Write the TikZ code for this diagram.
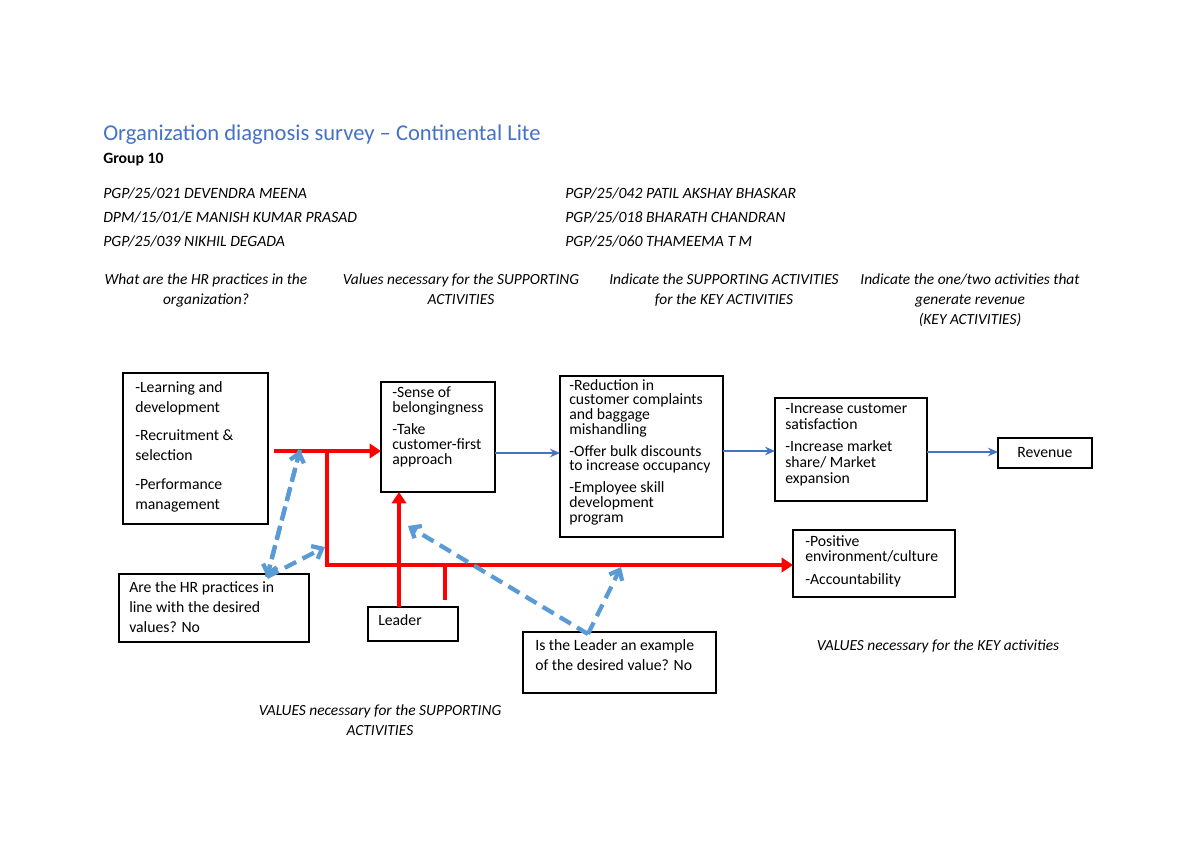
\documentclass[tikz,border=0pt]{standalone}
\usepackage{fontspec}
\setmainfont{Carlito}
\usetikzlibrary{arrows.meta}
\begin{document}
\begin{tikzpicture}[x=0.7pt,y=-0.7pt,
  box/.style={draw,line width=0.8pt,inner sep=0pt},
  txt/.style={align=left,anchor=north west,inner sep=0pt},
  nm/.style={anchor=west,inner sep=0pt,font=\fontsize{11}{13}\selectfont\itshape},
  hdr/.style={font=\fontsize{10.8}{14}\selectfont\itshape,align=center,inner sep=0pt},
  redar/.style={draw=red,line width=3.3pt,-{Triangle[length=8pt,width=10pt]}},
  redln/.style={draw=red,line width=3.3pt},
  bluear/.style={draw={rgb,255:red,68;green,114;blue,196},line width=1pt,-{Stealth[length=7pt,width=6pt]}},
  dashar/.style={draw={rgb,255:red,91;green,155;blue,213},line width=3pt,dash pattern=on 9pt off 5pt,-{Straight Barb[length=6pt,width=10pt]}}]
\useasboundingbox (0,0) rectangle (1200,849);
\node[anchor=west,inner sep=0pt,font=\fontsize{15.8}{18}\selectfont,text={rgb,255:red,68;green,114;blue,196}] (title) at (103,135) {Organization diagnosis survey – Continental Lite};
\node[anchor=west,inner sep=0pt,font=\fontsize{11}{13}\selectfont\bfseries] (grp) at (103,160) {Group 10};
\node[nm] (n1) at (103,193) {PGP/25/021 DEVENDRA MEENA};
\node[nm] (n2) at (103,217) {DPM/15/01/E MANISH KUMAR PRASAD};
\node[nm] (n3) at (103,241) {PGP/25/039 NIKHIL DEGADA};
\node[nm] (n4) at (565,193) {PGP/25/042 PATIL AKSHAY BHASKAR};
\node[nm] (n5) at (565,217) {PGP/25/018 BHARATH CHANDRAN};
\node[nm] (n6) at (565,241) {PGP/25/060 THAMEEMA T M};
\node[hdr,anchor=north] (h1) at (206,273) {What are the HR practices in the\\organization?};
\node[hdr,anchor=north] (h2) at (461,273) {Values necessary for the SUPPORTING\\ACTIVITIES};
\node[hdr,anchor=north] (h3) at (724,273) {Indicate the SUPPORTING ACTIVITIES\\for the KEY ACTIVITIES};
\node[hdr,anchor=north] (h4) at (970,273) {Indicate the one/two activities that\\generate revenue\\(KEY ACTIVITIES)};
% boxes
\draw[box] (123,373) rectangle (268,524); \node[txt,font=\fontsize{11}{14}\selectfont] (a) at (135,381) {-Learning and\\development\\[6pt]-Recruitment \&\\selection\\[6pt]-Performance\\management};
\draw[box] (381,382) rectangle (495,492); \node[txt,font=\fontsize{11}{10.5}\selectfont] (b) at (392,386) {-Sense of\\belongingness\\[5pt]-Take\\customer-first\\approach};
\draw[box] (560,376) rectangle (723,537); \node[txt,font=\fontsize{11}{10.3}\selectfont] (c) at (569,379) {-Reduction in\\customer complaints\\and baggage\\mishandling\\[5pt]-Offer bulk discounts\\to increase occupancy\\[5pt]-Employee skill\\development\\program};
\draw[box] (775,398) rectangle (927,501); \node[txt,font=\fontsize{11}{11}\selectfont] (d) at (785,403) {-Increase customer\\satisfaction\\[5pt]-Increase market\\share/ Market\\expansion};
\node[box,minimum width=94*0.7pt,minimum height=30*0.7pt,font=\fontsize{11}{12}\selectfont] (rev) at (1045,453) {Revenue};
\draw[box] (793,530) rectangle (955,597); \node[txt,font=\fontsize{11}{11}\selectfont] (e) at (805,535) {-Positive\\environment/culture\\[5pt]-Accountability};
\draw[box] (119,574) rectangle (309,642); \node[txt,font=\fontsize{11}{14}\selectfont] (q1) at (129,581) {Are the HR practices in\\line with the desired\\values? No};
\draw[box] (368,607) rectangle (458,641); \node[txt,font=\fontsize{11}{12}\selectfont] (ld) at (378,614) {Leader};
\draw[box] (523,632) rectangle (716,693); \node[txt,font=\fontsize{11}{14}\selectfont] (q2) at (535,639) {Is the Leader an example\\of the desired value? No};
\node[hdr,anchor=north] (v1) at (938,639) {VALUES necessary for the KEY activities};
\node[hdr,anchor=north] (v2) at (380,704) {VALUES necessary for the SUPPORTING\\ACTIVITIES};
% red
\coordinate (r0) at (274,451); \coordinate (r1) at (381,451);
\coordinate (r2) at (327,451); \coordinate (r3) at (327,565); \coordinate (r4) at (793,565);
\draw[redar] (r0) -- (r1);
\draw[redar] (r2) -- (r3) -- (r4);
\coordinate (l0) at (399,607); \coordinate (l1) at (399,492);
\draw[redar] (l0) -- (l1);
\coordinate (l2) at (445,600); \coordinate (l3) at (445,567);
\draw[redln] (l2) -- (l3);
% blue
\coordinate (b1) at (495,453); \coordinate (b2) at (560,453);
\coordinate (c1) at (723,451); \coordinate (c2) at (775,451);
\coordinate (d1) at (927,452); \coordinate (d2) at (998,452);
\draw[bluear] (b1) -- (b2); \draw[bluear] (c1) -- (c2); \draw[bluear] (d1) -- (d2);
% dashed
\coordinate (p0) at (267,577); \coordinate (p1) at (300,450); \coordinate (p2) at (325,547);
\draw[dashar] (p0) -- (p1); \draw[dashar] (p1) -- (p0); \draw[dashar] (p0) -- (p2);
\coordinate (s0) at (588,634); \coordinate (s1) at (408,526); \coordinate (s2) at (621,567);
\draw[dashar] (s0) -- (s1); \draw[dashar] (s0) -- (s2);
\end{tikzpicture}
\end{document}
